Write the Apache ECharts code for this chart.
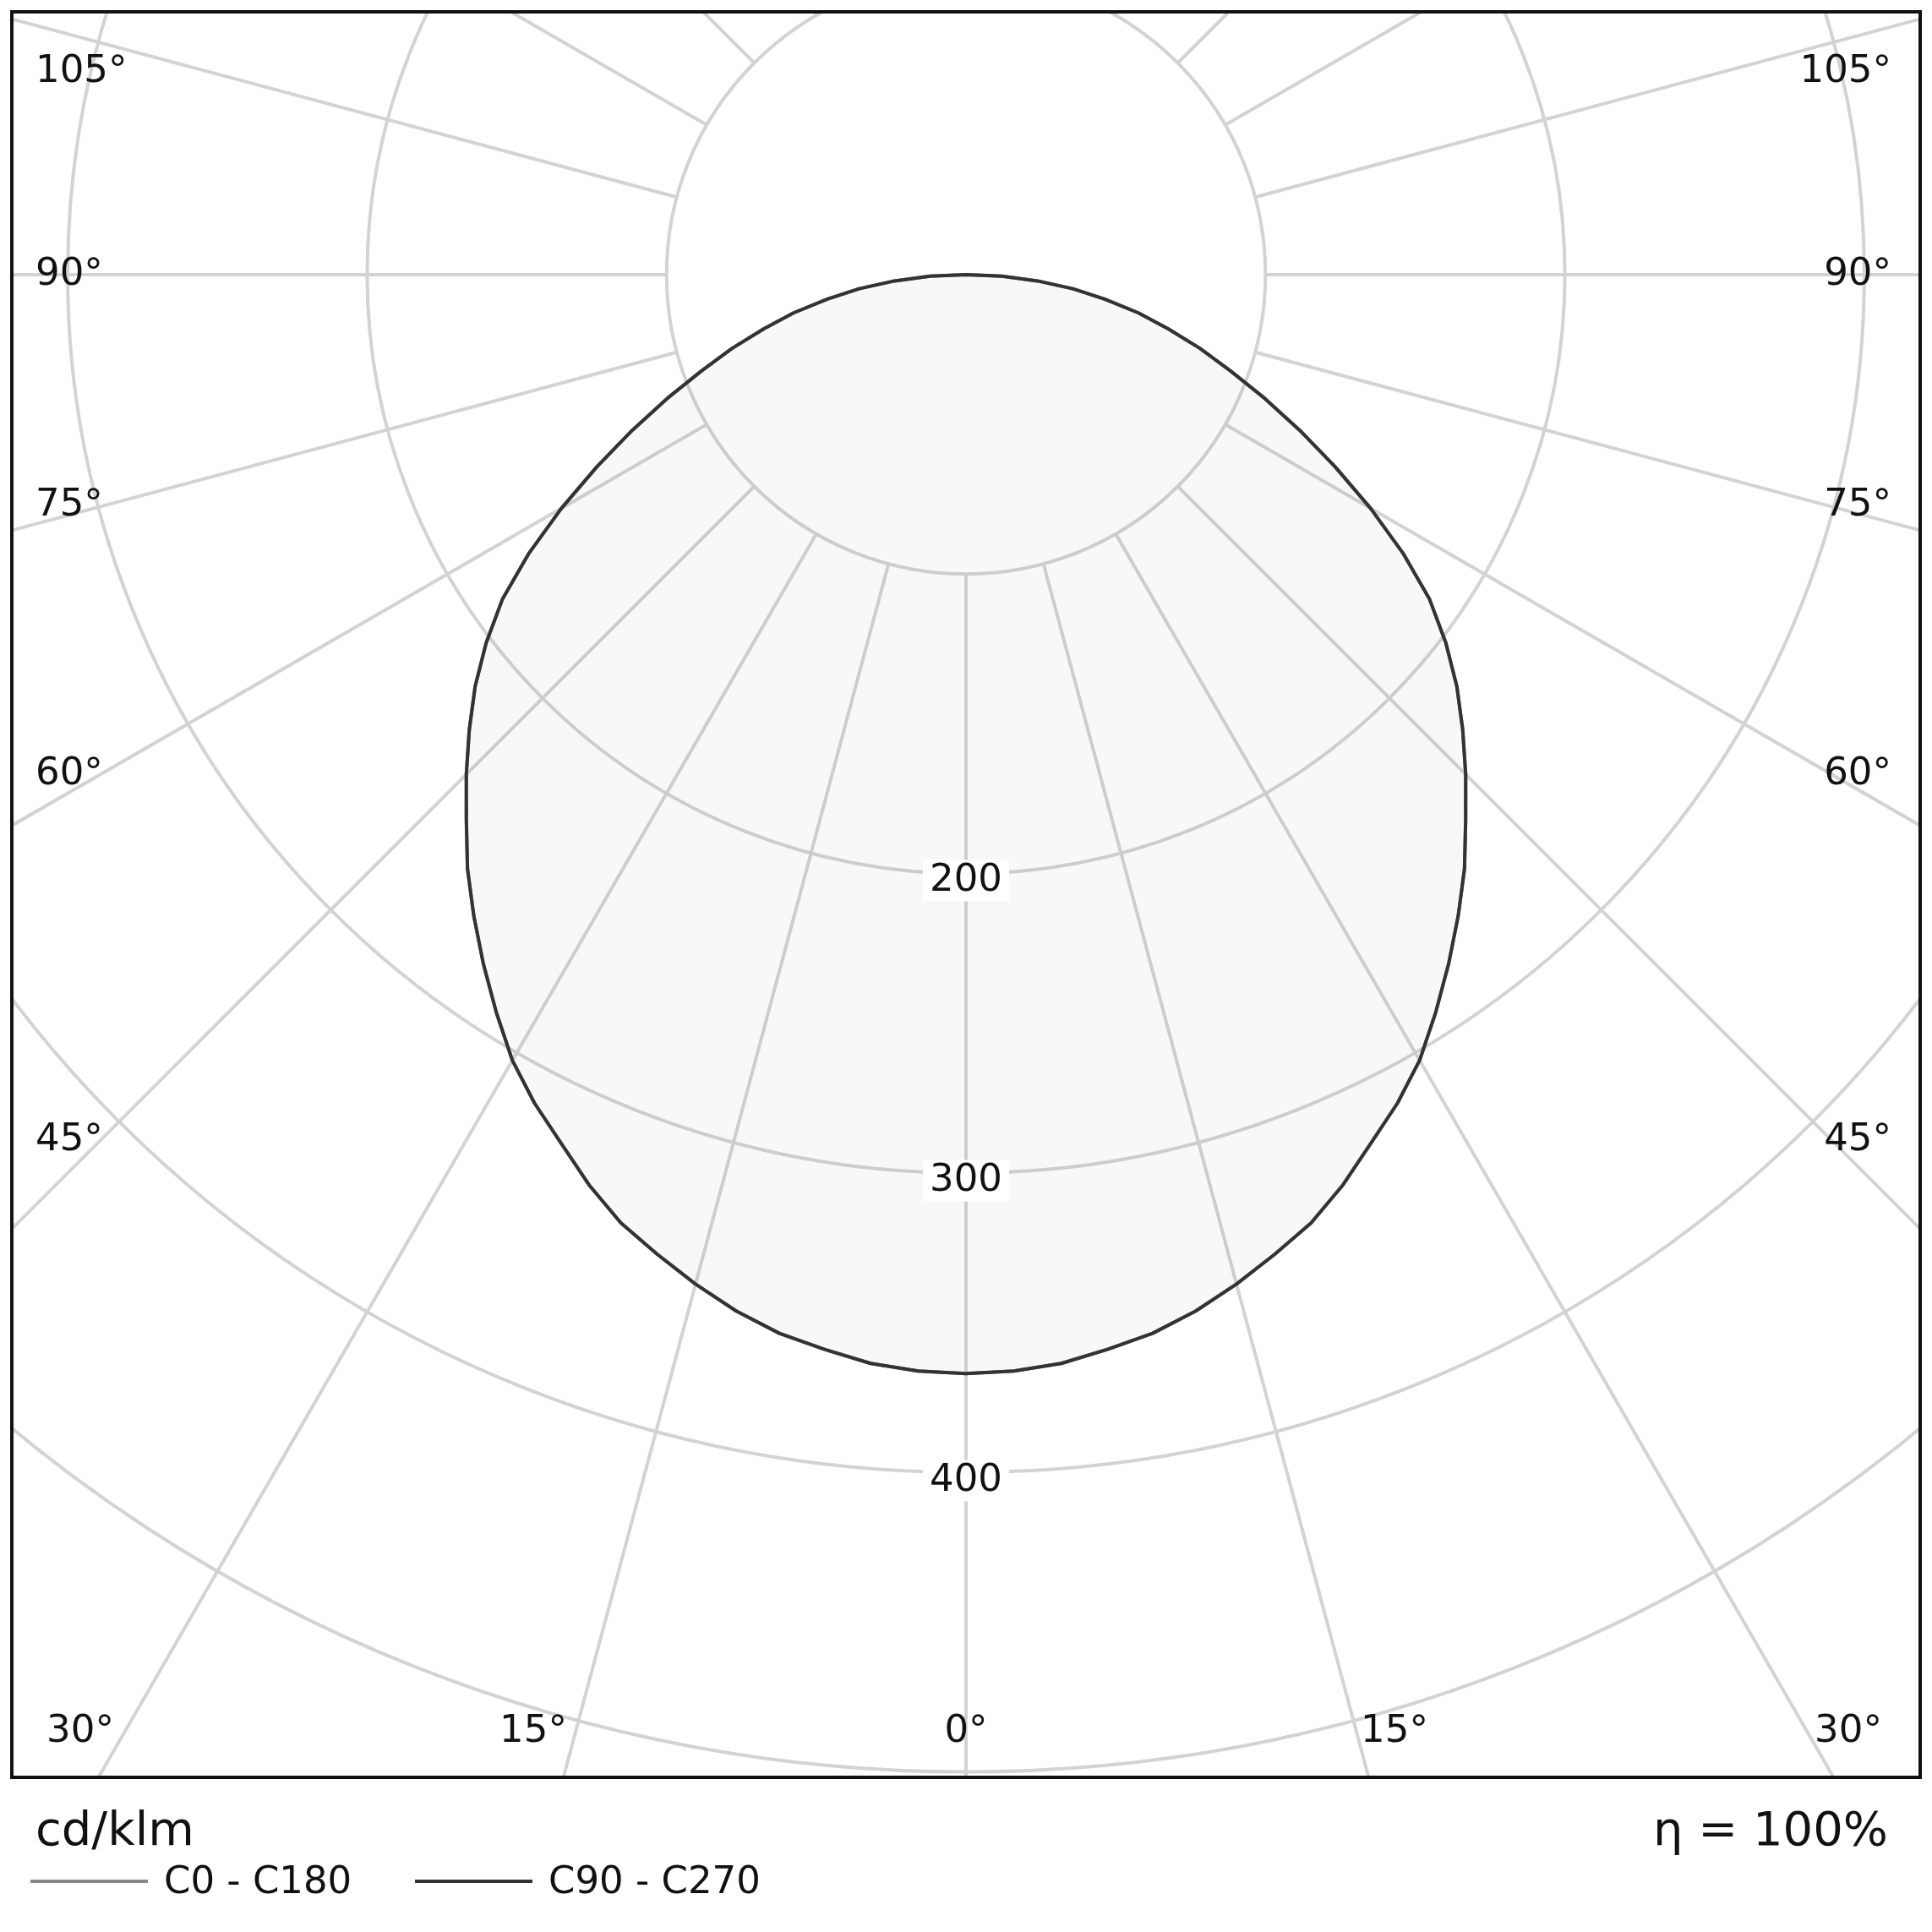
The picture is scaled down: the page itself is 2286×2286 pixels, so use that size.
<!DOCTYPE html>
<html><head><meta charset="utf-8">
<script src="https://cdn.jsdelivr.net/npm/echarts@6/dist/echarts.min.js"></script>
<style>html,body{margin:0;padding:0;background:#fff}#c{width:2286px;height:2286px}</style>
</head><body><div id="c"></div>
<script>
const gammaAngles = [0,2.5,5,7.5,10,12.5,15,17.5,20,22.5,25,27.5,30,32.5,35,37.5,40,42.5,45,47.5,50,52.5,55,57.5,60,62.5,65,67.5,70,72.5,75,77.5,80,82.5,85,87.5,90];
const c0Values  = [367,366.5,365,362,359,354.5,349,343,337,329,320,312,303,292,281,270,259,247,236,225,214,202,189,173,156,139,123,108,94,82,70,59,47,36,24,12,0];
const c90Values = [367,366.5,365,362,359,354.5,349,343,337,329,320,312,303,292,281,270,259,247,236,225,214,202,189,173,156,139,123,108,94,82,70,59,47,36,24,12,0];
const spokeAngles = [];
for (let a = -180; a <= 180; a += 15) spokeAngles.push(a);
const radiusTicks = [200, 300, 400];
const leftAngleLabels = ['105°','90°','75°','60°','45°'];
const bottomAngleLabels = ['30°','15°','0°','15°','30°'];

function mirrored(vals){
  const d = [];
  for (let i = gammaAngles.length-1; i >= 0; i--) d.push([vals[i], -gammaAngles[i]]);
  for (let i = 1; i < gammaAngles.length; i++) d.push([vals[i], gammaAngles[i]]);
  return d;
}
const cx = 1143, cy = 325, unit = 354.3;
const grid = '#d3d3d3';
const series = spokeAngles.map(a => ({
  type:'line', coordinateSystem:'polar', silent:true, symbol:'none', z:1,
  lineStyle:{color:grid,width:4}, data:[[100,a],[600,a]]
}));
series.push({type:'line',coordinateSystem:'polar',symbol:'none',smooth:false,z:5,name:'C0 - C180',
  lineStyle:{color:'#888',width:4},data:mirrored(c0Values)});
series.push({type:'line',coordinateSystem:'polar',symbol:'none',smooth:false,z:6,name:'C90 - C270',
  lineStyle:{color:'#333',width:4},areaStyle:{color:'rgba(0,0,0,0.04)'},data:mirrored(c90Values)});

const font = 'DejaVu Sans';
const txt = (x,y,t,align,size,bg) => ({type:'text',z:120,x:x,y:y,style:{text:t,x:0,y:0,fill:'#111',
  font:size+'px "'+font+'"',align:align,verticalAlign:'middle',backgroundColor:bg||null,padding:bg?[2,8]:0}});
const leftY = [85,325,598,916,1349];
const bottomX = [95,631,1143,1650,2187];
const radY = [1042,1397,1752];
const g = [
  {type:'rect',z:100,shape:{x:0,y:0,width:2286,height:14},style:{fill:'#fff'}},
  {type:'rect',z:100,shape:{x:0,y:0,width:14,height:2286},style:{fill:'#fff'}},
  {type:'rect',z:100,shape:{x:2272,y:0,width:14,height:2286},style:{fill:'#fff'}},
  {type:'rect',z:100,shape:{x:0,y:2103,width:2286,height:183},style:{fill:'#fff'}},
  {type:'rect',z:110,shape:{x:14,y:14,width:2258,height:2089},style:{fill:null,stroke:'#111',lineWidth:4}},
  {type:'line',z:110,shape:{x1:36,y1:2226,x2:175,y2:2226},style:{stroke:'#888',lineWidth:4}},
  {type:'line',z:110,shape:{x1:491,y1:2226,x2:630,y2:2226},style:{stroke:'#333',lineWidth:4}},
  txt(194,2228,'C0 - C180','left',45),
  txt(649,2228,'C90 - C270','left',45),
  txt(42,2168,'cd/klm','left',56),
  txt(2234,2168,'η = 100%','right',56)
];
leftAngleLabels.forEach((t,i)=>{ g.push(txt(42,leftY[i],t,'left',45)); g.push(txt(2238,leftY[i],t,'right',45)); });
bottomAngleLabels.forEach((t,i)=> g.push(txt(bottomX[i],2049,t,'center',45)));
radiusTicks.forEach((t,i)=> g.push(txt(cx,radY[i],String(t),'center',45,'#fff')));

const chart = echarts.init(document.getElementById('c'));
chart.setOption({
  animation:false, backgroundColor:'#fff',
  polar:{center:[cx,cy],radius:unit*6},
  angleAxis:{type:'value',min:-180,max:180,startAngle:90,clockwise:true,
    axisLine:{show:false},axisTick:{show:false},axisLabel:{show:false},splitLine:{show:false}},
  radiusAxis:{type:'value',min:0,max:600,interval:100,axisLine:{show:false},axisTick:{show:false},
    axisLabel:{show:false},splitLine:{show:true,lineStyle:{color:grid,width:4}}},
  series:series,
  graphic:g
});
</script></body></html>
